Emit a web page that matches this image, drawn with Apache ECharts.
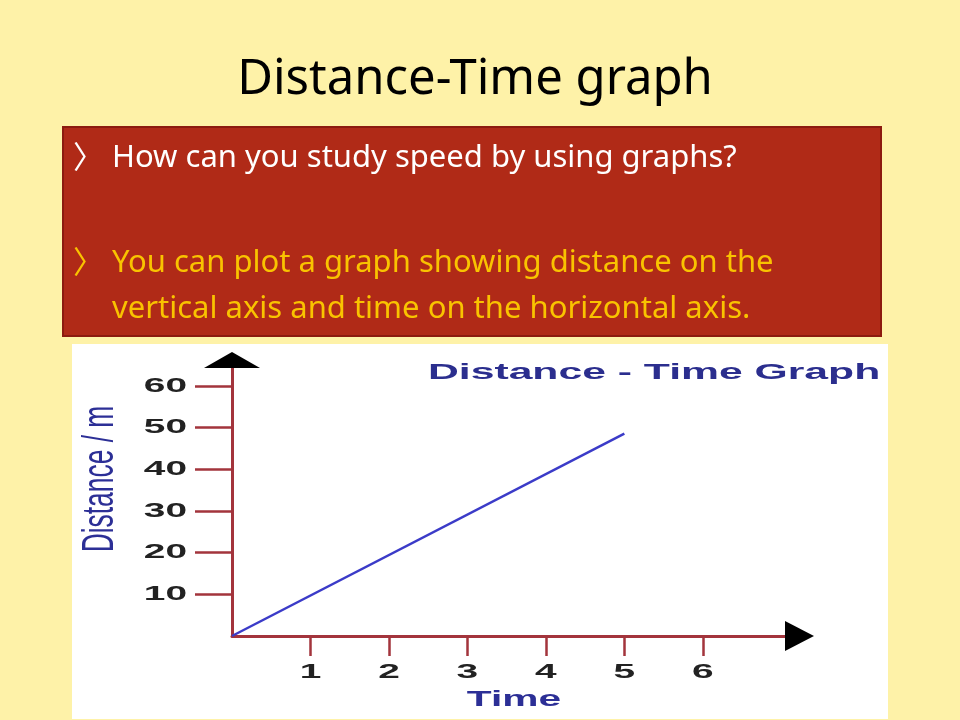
<!DOCTYPE html>
<html>
<head>
<meta charset="utf-8">
<script src="https://cdn.jsdelivr.net/npm/echarts@6/dist/echarts.min.js"></script>
<style>
html,body{margin:0;padding:0;background:#FEF2A8;}
#c{width:960px;height:720px;}
</style>
</head>
<body>
<div id="c"></div>
<script>
// ---- data ----
const timeValues = [0, 5];
const distanceValues = [0, 48.5];
const xTickValues = [1, 2, 3, 4, 5, 6];
const yTickValues = [10, 20, 30, 40, 50, 60];
const slideTitle = 'Distance-Time graph';
const bulletWhite = 'How can you study speed by using graphs?';
const bulletYellow = ['You can plot a graph showing distance on the', 'vertical axis and time on the horizontal axis.'];
const graphTitle = 'Distance - Time Graph';
const yAxisTitle = 'Distance / m';
const xAxisTitle = 'Time';

const AXIS_RED = '#A3343C';
const LABEL_BLUE = '#2C2F96';
const chart = echarts.init(document.getElementById('c'), null, {renderer: 'canvas'});

const baseGraphic = [
  {id: 'panel', type: 'rect', z: -5, shape: {x: 72, y: 344, width: 816, height: 375}, style: {fill: '#FFFFFF'}},
  {id: 'box', type: 'rect', z: -5, shape: {x: 63, y: 127, width: 818, height: 209}, style: {fill: '#B02A17', stroke: '#8C1B0F', lineWidth: 2}},
  {id: 'title', type: 'text', x: 475, y: 80, style: {text: slideTitle, fontFamily: 'Noto Sans', fontSize: 49, fill: '#000000', align: 'center', verticalAlign: 'middle'}},
  {id: 'b1', type: 'text', x: 73, y: 156, style: {text: '〉', fontFamily: 'Noto Sans CJK SC', fontSize: 31, fill: '#FFFFFF', align: 'left', verticalAlign: 'middle'}},
  {id: 't1', type: 'text', x: 112, y: 158, style: {text: bulletWhite, fontFamily: 'Noto Sans', fontSize: 31, fill: '#FFFFFF', align: 'left', verticalAlign: 'middle'}},
  {id: 'b2', type: 'text', x: 73, y: 261, style: {text: '〉', fontFamily: 'Noto Sans CJK SC', fontSize: 31, fill: '#F9C300', align: 'left', verticalAlign: 'middle'}},
  {id: 't2', type: 'text', x: 112, y: 263, style: {text: bulletYellow[0], fontFamily: 'Noto Sans', fontSize: 31, fill: '#F9C300', align: 'left', verticalAlign: 'middle'}},
  {id: 't3', type: 'text', x: 112, y: 309, style: {text: bulletYellow[1], fontFamily: 'Noto Sans', fontSize: 31, fill: '#F9C300', align: 'left', verticalAlign: 'middle'}},
  {id: 'gt', type: 'text', x: 428, y: 373, scaleX: 1.94, scaleY: 1, style: {text: graphTitle, fontFamily: 'Liberation Sans', fontWeight: 'bold', fontSize: 22, fill: '#2B2E8E', align: 'left', verticalAlign: 'middle'}},
  {id: 'yt', type: 'text', x: 101, y: 479, rotation: Math.PI / 2, scaleX: 1.2, scaleY: 2, style: {text: yAxisTitle, fontFamily: 'Liberation Sans', fontSize: 22, fill: LABEL_BLUE, align: 'center', verticalAlign: 'middle'}},
  {id: 'xt', type: 'text', x: 514, y: 700, scaleX: 1.85, scaleY: 1, style: {text: xAxisTitle, fontFamily: 'Liberation Sans', fontWeight: 'bold', fontSize: 22, fill: LABEL_BLUE, align: 'center', verticalAlign: 'middle'}}
];

const option = {
  animation: false,
  backgroundColor: '#FEF2A8',
  grid: {left: 232, right: 174, top: 367, bottom: 84, containLabel: false},
  xAxis: {
    type: 'value', min: 0, max: 7.06, interval: 1,
    axisLine: {show: true, onZero: false, lineStyle: {color: AXIS_RED, width: 3}},
    axisTick: {show: true, inside: false, length: 20, customValues: xTickValues, lineStyle: {color: AXIS_RED, width: 2.5}},
    axisLabel: {show: true, customValues: xTickValues, margin: 26, fontFamily: 'Liberation Sans', fontWeight: 'bold', fontSize: 21, color: '#222222'},
    splitLine: {show: false}
  },
  yAxis: {
    type: 'value', min: 0, max: 64.5, interval: 10,
    axisLine: {show: true, onZero: false, lineStyle: {color: AXIS_RED, width: 3}},
    axisTick: {show: true, inside: false, length: 37, customValues: yTickValues, lineStyle: {color: AXIS_RED, width: 2.5}},
    axisLabel: {show: true, customValues: yTickValues, margin: 45, fontFamily: 'Liberation Sans', fontWeight: 'bold', fontSize: 21, color: '#222222'},
    splitLine: {show: false}
  },
  graphic: {elements: baseGraphic},
  series: [{
    type: 'line',
    data: timeValues.map((t, i) => [t, distanceValues[i]]),
    showSymbol: false,
    symbol: 'none',
    lineStyle: {color: '#3B3BC8', width: 2.5},
    z: 5
  }]
};

chart.setOption(option);

// arrow heads at the axis ends, positioned through the grid's scales
const xEnd = chart.convertToPixel({gridIndex: 0}, [7.06, 0]);
const yEnd = chart.convertToPixel({gridIndex: 0}, [0, 64.5]);
chart.setOption({
  graphic: {elements: [
    {id: 'xarrow', type: 'polygon', z: 20, shape: {points: [[xEnd[0] - 1, xEnd[1] - 15], [xEnd[0] + 28, xEnd[1]], [xEnd[0] - 1, xEnd[1] + 15]]}, style: {fill: '#000000'}},
    {id: 'yarrow', type: 'polygon', z: 20, shape: {points: [[yEnd[0] - 28, yEnd[1] + 1], [yEnd[0], yEnd[1] - 15], [yEnd[0] + 28, yEnd[1] + 1]]}, style: {fill: '#000000'}}
  ]}
});

// widen the axis tick labels like the stretched original picture
(function stretchAxisLabels() {
  const labels = new Set(xTickValues.concat(yTickValues).map(String));
  const zr = chart.getZr();
  zr.storage.getRoots().forEach(function (root) {
    if (!root.traverse) return;
    root.traverse(function (el) {
      if (el.type === 'text' && el.style && labels.has(String(el.style.text))) {
        el.attr({scaleX: 1.85});
      }
    });
  });
  zr.refresh();
})();
</script>
</body>
</html>
